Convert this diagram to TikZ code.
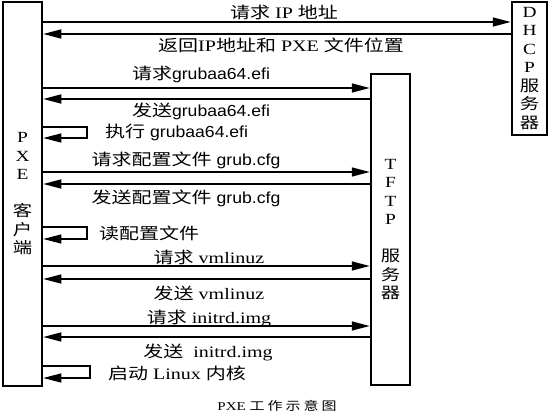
\documentclass[tikz,border=0pt]{standalone}
\usepackage{fontspec}
\setmainfont[FakeStretch=1.25]{Liberation Serif}
\newfontfamily\cjk[FakeStretch=1.25]{Noto Sans CJK SC}
\newfontfamily\grubfont[FakeStretch=1.1]{Liberation Sans}
\newfontfamily\capfont[FakeStretch=1.25,LetterSpace=25]{Noto Sans CJK SC}
\usetikzlibrary{arrows.meta}
\newcommand{\zh}[1]{{\cjk #1}}
\newcommand{\fn}[1]{{\grubfont #1}}
\tikzset{
  box/.style={draw, line width=2.5pt, inner sep=0pt, align=center, font=\fontsize{15.5}{18.5}\selectfont},
  msg/.style={line width=1.5pt, -{Triangle[length=18pt,width=9pt]}},
  loopmsg/.style={msg, line width=1.1pt},
  lbl/.style={inner sep=0pt, anchor=base, font=\fontsize{16}{18}\selectfont},
}
\begin{document}
\begin{tikzpicture}[x=1pt,y=-1pt]
  \useasboundingbox (0,0) rectangle (554,414);
  % boxes
  \node[box, minimum width=39pt, minimum height=384pt] (pxe) at (22.5,194) {P\\X\\E\\[18.5pt]\zh{客}\\\zh{户}\\\zh{端}};
  \node[box, minimum width=35pt, minimum height=133pt] (dhcp) at (529.5,68.5) {D\\H\\C\\P\\\zh{服}\\\zh{务}\\\zh{器}};
  \node[box, minimum width=39pt, minimum height=311pt] (tftp) at (390.5,229.5) {T\\F\\T\\P\\[18.5pt]\zh{服}\\\zh{务}\\\zh{器}};
  % dhcp
  \draw[msg] (pxe.east |- 0,22) -- (dhcp.west |- 0,22);
  \node[lbl] (reqip) at (284,19) {\zh{请求} IP \zh{地址}};
  \draw[msg] (dhcp.west |- 0,34) -- (pxe.east |- 0,34);
  \node[lbl] (retip) at (281,52) {\zh{返回}IP\zh{地址和} PXE \zh{文件位置}};
  % grubaa64.efi
  \draw[msg] (pxe.east |- 0,88) -- (tftp.west |- 0,88);
  \node[lbl] (reqefi) at (201,80) {\zh{请求}\fn{grubaa64.efi}};
  \draw[msg] (tftp.west |- 0,99) -- (pxe.east |- 0,99);
  \node[lbl] (sendefi) at (201,117) {\zh{发送}\fn{grubaa64.efi}};
  \draw[loopmsg] (pxe.east |- 0,127) -| (87,138) -- (pxe.east |- 0,138);
  \node[lbl, anchor=base west] (runefi) at (105,138) {\zh{执行} \fn{grubaa64.efi}};
  % grub.cfg
  \draw[msg] (pxe.east |- 0,172) -- (tftp.west |- 0,172);
  \node[lbl] (reqcfg) at (186,166) {\zh{请求配置文件} \fn{grub.cfg}};
  \draw[msg] (tftp.west |- 0,184) -- (pxe.east |- 0,184);
  \node[lbl] (sendcfg) at (186,204) {\zh{发送配置文件} \fn{grub.cfg}};
  \draw[loopmsg] (pxe.east |- 0,227) -| (87,239) -- (pxe.east |- 0,239);
  \node[lbl, anchor=base west] (readcfg) at (99,239) {\zh{读配置文件}};
  % vmlinuz
  \draw[msg] (pxe.east |- 0,266) -- (tftp.west |- 0,266);
  \node[lbl] (reqvm) at (209,263) {\zh{请求} vmlinuz};
  \draw[msg] (tftp.west |- 0,279) -- (pxe.east |- 0,279);
  \node[lbl] (sendvm) at (209,299) {\zh{发送} vmlinuz};
  % initrd.img
  \draw[msg] (pxe.east |- 0,326) -- (tftp.west |- 0,326);
  \node[lbl] (reqrd) at (209,323) {\zh{请求} initrd.img};
  \draw[msg] (tftp.west |- 0,337) -- (pxe.east |- 0,337);
  \node[lbl] (sendrd) at (208,357) {\zh{发送}\ \ initrd.img};
  \draw[loopmsg] (pxe.east |- 0,366) -| (90,378) -- (pxe.east |- 0,378);
  \node[lbl, anchor=base west] (boot) at (108,379) {\zh{启动} Linux \zh{内核}};
  % caption
  \node[lbl] (cap) at (277,410) {\fontsize{12}{14}\selectfont PXE {\capfont 工作示意图}};
\end{tikzpicture}
\end{document}
